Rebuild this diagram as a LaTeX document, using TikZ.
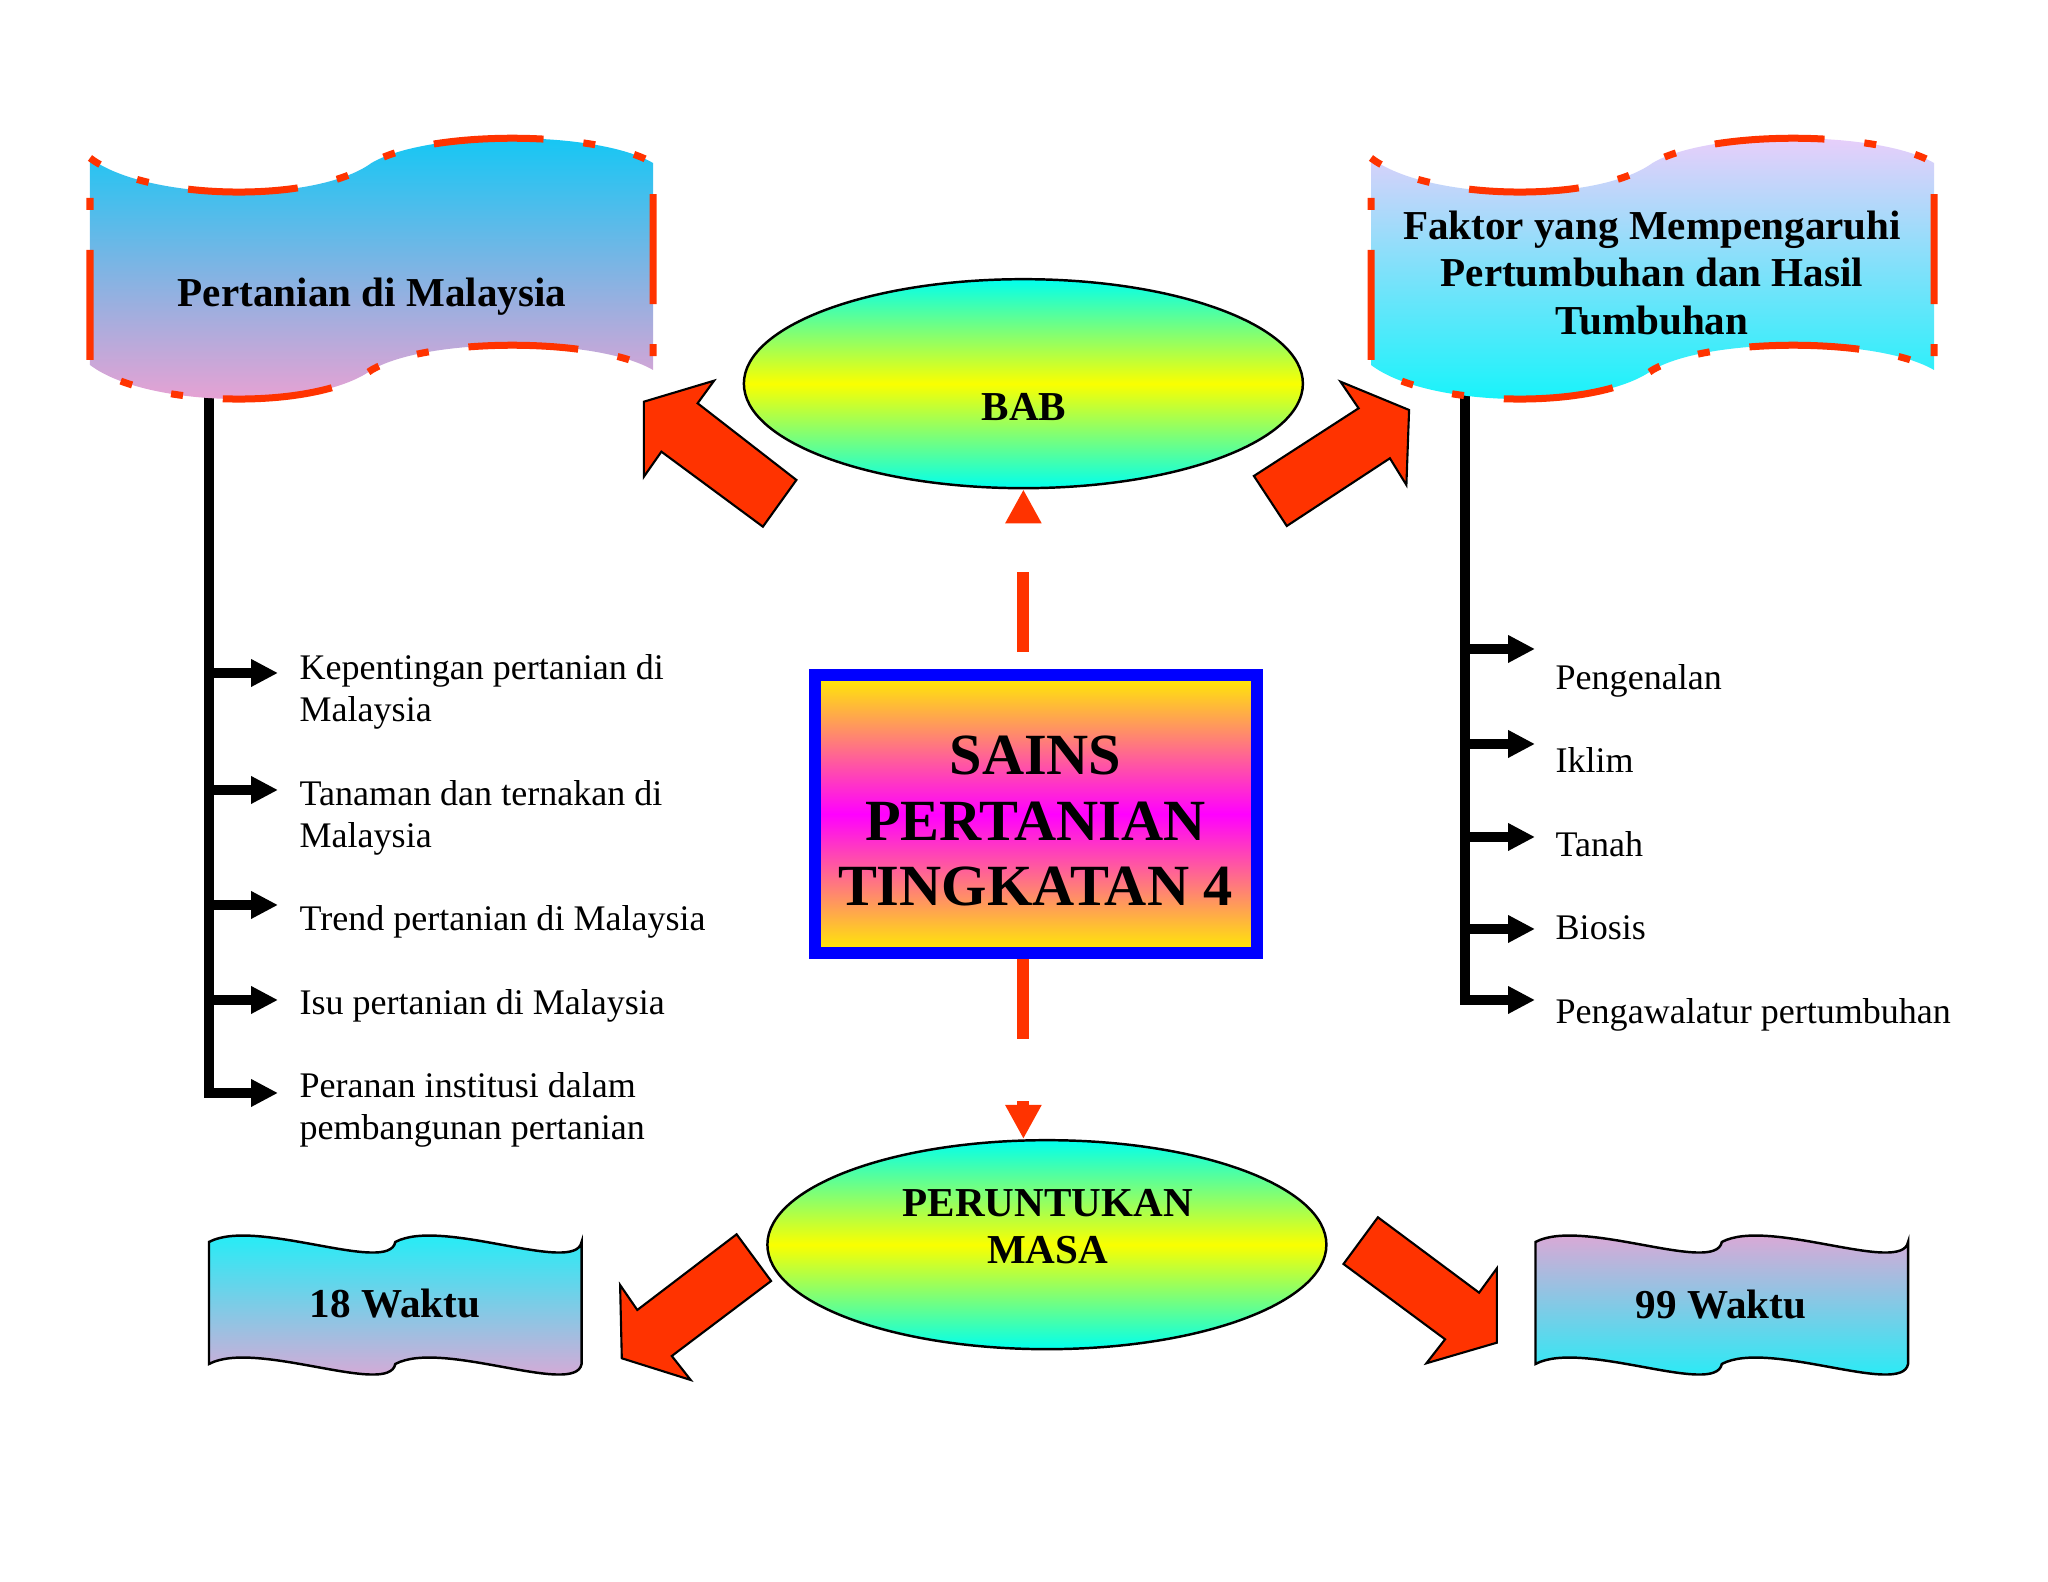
\documentclass[tikz,border=0pt]{standalone}
\usepackage{fontspec}
\setmainfont{Liberation Serif}
\usetikzlibrary{arrows.meta, shapes.geometric}

\definecolor{arrowred}{RGB}{255,51,0}
\definecolor{flagcyan}{RGB}{15,200,245}
\definecolor{flagpink}{RGB}{240,160,210}
\definecolor{flagviolet}{RGB}{238,205,250}
\definecolor{flagaqua}{RGB}{15,245,250}
\definecolor{ovalcyan}{RGB}{0,255,238}
\definecolor{ovalyellow}{RGB}{250,255,0}
\definecolor{boxyellow}{RGB}{255,238,0}
\definecolor{boxmagenta}{RGB}{255,0,255}
\definecolor{boxblue}{RGB}{0,0,255}

\begin{document}
\begin{tikzpicture}[
  >=Stealth,
  flagtitle/.style={font=\fontsize{11.7}{13.4}\selectfont\bfseries, align=center},
  bigflag/.style={draw=arrowred, line width=0.07cm,
    dash pattern=on 0.12cm off 0.4cm on 0.12cm off 0.4cm on 1.1cm off 0.4cm},
  smallflag/.style={draw=black, line width=0.7pt},
  oval/.style={ellipse, draw, line width=0.7pt, minimum width=5.59cm,
    minimum height=2.09cm, top color=ovalcyan, bottom color=ovalcyan,
    middle color=ovalyellow},
  titlebox/.style={draw=boxblue, line width=0.12cm, minimum width=4.42cm,
    minimum height=2.78cm, top color=boxyellow, bottom color=boxyellow,
    middle color=boxmagenta},
  boxtext/.style={align=center, font=\fontsize{16.6}{18.6}\selectfont\bfseries},
  blockarr/.style={fill=arrowred, draw=black, line width=0.6pt},
  dasharr/.style={-{Triangle[width=0.34cm, length=0.34cm]}, draw=arrowred,
    line width=0.12cm, dash pattern=on 0.8cm off 0.62cm},
  stem/.style={line width=0.105cm},
  branch/.style={stem, -{Triangle[width=0.26cm, length=0.27cm]}},
  item/.style={anchor=west, align=left, inner sep=0pt,
    font=\fontsize{10.25}{11.9}\selectfont},
]
\useasboundingbox (0,0) rectangle (20.48,15.82);

% --- Left list ---
\coordinate (ltop) at (2.09,12.0);
\foreach \y [count=\i] in {9.09,7.92,6.77,5.82,4.89}
  \coordinate (la\i) at (2.78,\y);
\foreach \i in {1,...,4}
  \draw[branch] (ltop |- la\i) -- (la\i);
\draw[branch] (ltop) |- (la5);

\node[item] (kep) at (2.99,8.897) {Kepentingan pertanian di\\Malaysia};
\node[item] (tanam) at (2.99,7.644) {Tanaman dan ternakan di\\Malaysia};
\node[item] (trend) at (2.99,6.60) {Trend pertanian di Malaysia};
\node[item] (isu) at (2.99,5.763) {Isu pertanian di Malaysia};
\node[item] (peranan) at (2.99,4.718) {Peranan institusi dalam\\pembangunan pertanian};

% --- Right list ---
\coordinate (rtop) at (14.65,12.0);
\foreach \y [count=\i] in {9.33,8.38,7.45,6.53,5.82}
  \coordinate (ra\i) at (15.35,\y);
\foreach \i in {1,...,4}
  \draw[branch] (rtop |- ra\i) -- (ra\i);
\draw[branch] (rtop) |- (ra5);

\node[item] (kenal) at (15.55,9.015) {Pengenalan};
\node[item] (iklim) at (15.55,8.22) {Iklim};
\node[item] (tanah) at (15.55,7.383) {Tanah};
\node[item] (biosis) at (15.55,6.547) {Biosis};
\node[item] (pengawal) at (15.55,5.67) {Pengawalatur pertumbuhan};

% --- Top flags (dashed red border) ---
\begin{scope}[shift={(0.90,12.17)}]
  \path[bigflag, top color=flagcyan, bottom color=flagpink]
    (0,2.07) .. controls (0.563,1.64) and (2.252,1.61) .. (2.815,2.02)
    .. controls (3.378,2.35) and (5.067,2.35) .. (5.63,2.02)
    -- (5.63,-0.05) .. controls (5.067,0.28) and (3.378,0.28) .. (2.815,-0.05)
    .. controls (2.252,-0.46) and (0.563,-0.43) .. (0,0) -- cycle;
\end{scope}
\begin{scope}[shift={(13.71,12.17)}]
  \path[bigflag, top color=flagviolet, bottom color=flagaqua]
    (0,2.07) .. controls (0.563,1.64) and (2.252,1.61) .. (2.815,2.02)
    .. controls (3.378,2.35) and (5.067,2.35) .. (5.63,2.02)
    -- (5.63,-0.05) .. controls (5.067,0.28) and (3.378,0.28) .. (2.815,-0.05)
    .. controls (2.252,-0.46) and (0.563,-0.43) .. (0,0) -- cycle;
\end{scope}

\node[flagtitle] (pertanian) at (3.72,12.855) {Pertanian di Malaysia};
\node[flagtitle] (faktor) at (16.52,13.09)
  {Faktor yang Mempengaruhi\\Pertumbuhan dan Hasil\\Tumbuhan};

% --- Bottom flags ---
\begin{scope}[shift={(2.09,2.18)}]
  \path[smallflag, top color=flagaqua, bottom color=flagpink]
    (0,1.22) .. controls (0.467,1.47) and (1.80,0.887) .. (1.863,1.22)
    .. controls (2.33,1.47) and (3.663,0.887) .. (3.726,1.22)
    -- (3.726,0) .. controls (3.663,-0.333) and (2.33,0.25) .. (1.863,0)
    .. controls (1.80,-0.333) and (0.467,0.25) .. (0,0) -- cycle;
\end{scope}
\begin{scope}[shift={(15.355,2.18)}]
  \path[smallflag, top color=flagpink, bottom color=flagaqua]
    (0,1.22) .. controls (0.467,1.47) and (1.80,0.887) .. (1.863,1.22)
    .. controls (2.33,1.47) and (3.663,0.887) .. (3.726,1.22)
    -- (3.726,0) .. controls (3.663,-0.333) and (2.33,0.25) .. (1.863,0)
    .. controls (1.80,-0.333) and (0.467,0.25) .. (0,0) -- cycle;
\end{scope}

\node[flagtitle] (waktu18) at (3.95,2.787) {18 Waktu};
\node[flagtitle] (waktu99) at (17.21,2.77) {99 Waktu};

% --- Ovals and title box ---
\node[oval] (bab) at (10.234,11.983) {};
\node[flagtitle] (babtext) at (10.24,11.753) {BAB};
\node[oval] (masa) at (10.469,3.373) {};
\node[flagtitle] (masatext) at (10.477,3.555) {PERUNTUKAN\\MASA};

\node[titlebox] (sains) at (10.355,7.679) {};
\node[boxtext] (sainstext) at ([yshift=-0.07cm]sains.center)
  {SAINS\\PERTANIAN\\TINGKATAN 4};

% --- Dashed arrows from the title box ---
\draw[dasharr, dash phase=1.25cm] (sains.north -| bab.south) -- (bab.south);
\draw[dasharr] (sains.south -| bab.south) -- (masa.north -| bab.south);

% --- Block arrows ---
\draw[blockarr] (7.964,11.02) -- (6.976,11.787) -- (7.141,12.013)
  -- (6.439,11.803) -- (6.439,11.053) -- (6.614,11.303) -- (7.629,10.553) -- cycle;
\draw[blockarr] (12.539,11.06) -- (13.586,11.737) -- (13.405,12.003)
  -- (14.091,11.72) -- (14.064,10.97) -- (13.899,11.237) -- (12.868,10.56) -- cycle;
\draw[blockarr] (7.366,3.477) -- (7.711,3.01) -- (6.718,2.26)
  -- (6.907,2.02) -- (6.218,2.237) -- (6.201,2.97) -- (6.373,2.72) -- cycle;
\draw[blockarr] (13.779,3.647) -- (14.791,2.893) -- (14.969,3.137)
  -- (14.969,2.393) -- (14.264,2.187) -- (14.451,2.427) -- (13.435,3.18) -- cycle;

\end{tikzpicture}
\end{document}
